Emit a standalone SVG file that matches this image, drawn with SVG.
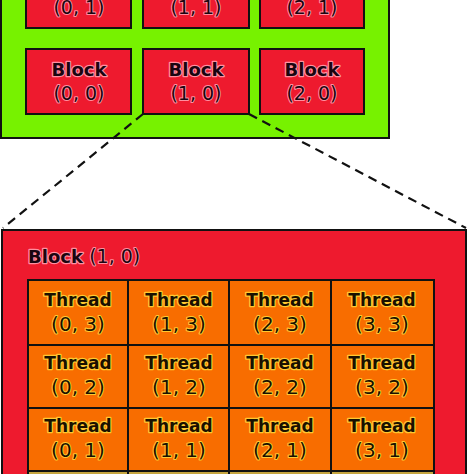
<svg xmlns="http://www.w3.org/2000/svg" width="474" height="474" viewBox="0 0 474 474">
<style>
.grid{fill:#77f200;stroke:#111;stroke-width:2}
.blk{fill:#ee1a2e;stroke:#111;stroke-width:2}
.cell{fill:#f86d00;stroke:#111;stroke-width:2}
.cell4{fill:#c6a640;stroke:#111;stroke-width:2}
text{font-family:"DejaVu Sans",Verdana,sans-serif;text-anchor:middle;fill:#1a0510;paint-order:stroke;stroke-linejoin:round}
.bt{font-weight:bold;font-size:18px;stroke:#ff8fa0;stroke-width:2.5}
.bc{font-size:19px;stroke:#ff8fa0;stroke-width:2}
.tt{font-weight:bold;font-size:17px;stroke:#ffc830;stroke-width:2.5;fill:#1a1000}
.tc{font-size:20px;stroke:#ffc830;stroke-width:2;fill:#1a1000}
.dash{stroke:#111;stroke-width:2.2;stroke-dasharray:9 6;fill:none}
</style>
<rect width="474" height="474" fill="#fff"/>
<g id="grid">
<rect class="grid" x="1" y="-20" width="388" height="158"/>
</g>
<g id="block-0-1"><rect class="blk" x="26" y="-37" width="105" height="65"/><text class="bc" x="79" y="14">(0, 1)</text></g>
<g id="block-1-1"><rect class="blk" x="143" y="-37" width="106" height="65"/><text class="bc" x="196" y="14">(1, 1)</text></g>
<g id="block-2-1"><rect class="blk" x="260" y="-37" width="104" height="65"/><text class="bc" x="312" y="14">(2, 1)</text></g>
<g id="block-0-0"><rect class="blk" x="26" y="49" width="105" height="65"/><text class="bt" x="79" y="76">Block</text><text class="bc" x="79" y="100">(0, 0)</text></g>
<g id="block-1-0"><rect class="blk" x="143" y="49" width="106" height="65"/><text class="bt" x="196" y="76">Block</text><text class="bc" x="196" y="100">(1, 0)</text></g>
<g id="block-2-0"><rect class="blk" x="260" y="49" width="104" height="65"/><text class="bt" x="312" y="76">Block</text><text class="bc" x="312" y="100">(2, 0)</text></g>
<g id="connectors">
<line class="dash" x1="143" y1="114" x2="3" y2="228"/>
<line class="dash" x1="249" y1="114" x2="466" y2="228"/>
</g>
<g id="block-detail">
<rect class="blk" x="2" y="230" width="464" height="260"/>
<text class="bt" x="28" y="263" style="text-anchor:start">Block <tspan style="font-weight:normal;font-size:19px;stroke-width:2">(1, 0)</tspan></text>
</g>
<g id="threads">
<g id="t-0-3"><rect class="cell" x="28" y="280" width="100" height="65"/><text class="tt" x="78" y="306">Thread</text><text class="tc" x="78" y="331">(0, 3)</text></g>
<g id="t-1-3"><rect class="cell" x="128" y="280" width="101" height="65"/><text class="tt" x="179" y="306">Thread</text><text class="tc" x="179" y="331">(1, 3)</text></g>
<g id="t-2-3"><rect class="cell" x="229" y="280" width="102" height="65"/><text class="tt" x="280" y="306">Thread</text><text class="tc" x="280" y="331">(2, 3)</text></g>
<g id="t-3-3"><rect class="cell" x="331" y="280" width="103" height="65"/><text class="tt" x="382" y="306">Thread</text><text class="tc" x="382" y="331">(3, 3)</text></g>
<g id="t-0-2"><rect class="cell" x="28" y="345" width="100" height="63"/><text class="tt" x="78" y="369">Thread</text><text class="tc" x="78" y="394">(0, 2)</text></g>
<g id="t-1-2"><rect class="cell" x="128" y="345" width="101" height="63"/><text class="tt" x="179" y="369">Thread</text><text class="tc" x="179" y="394">(1, 2)</text></g>
<g id="t-2-2"><rect class="cell" x="229" y="345" width="102" height="63"/><text class="tt" x="280" y="369">Thread</text><text class="tc" x="280" y="394">(2, 2)</text></g>
<g id="t-3-2"><rect class="cell" x="331" y="345" width="103" height="63"/><text class="tt" x="382" y="369">Thread</text><text class="tc" x="382" y="394">(3, 2)</text></g>
<g id="t-0-1"><rect class="cell" x="28" y="408" width="100" height="63"/><text class="tt" x="78" y="432">Thread</text><text class="tc" x="78" y="457">(0, 1)</text></g>
<g id="t-1-1"><rect class="cell" x="128" y="408" width="101" height="63"/><text class="tt" x="179" y="432">Thread</text><text class="tc" x="179" y="457">(1, 1)</text></g>
<g id="t-2-1"><rect class="cell" x="229" y="408" width="102" height="63"/><text class="tt" x="280" y="432">Thread</text><text class="tc" x="280" y="457">(2, 1)</text></g>
<g id="t-3-1"><rect class="cell" x="331" y="408" width="103" height="63"/><text class="tt" x="382" y="432">Thread</text><text class="tc" x="382" y="457">(3, 1)</text></g>
<g id="t-0-0"><rect class="cell4" x="28" y="471" width="100" height="63"/></g>
<g id="t-1-0"><rect class="cell4" x="128" y="471" width="101" height="63"/></g>
<g id="t-2-0"><rect class="cell4" x="229" y="471" width="102" height="63"/></g>
<g id="t-3-0"><rect class="cell4" x="331" y="471" width="103" height="63"/></g>
</g>
</svg>
